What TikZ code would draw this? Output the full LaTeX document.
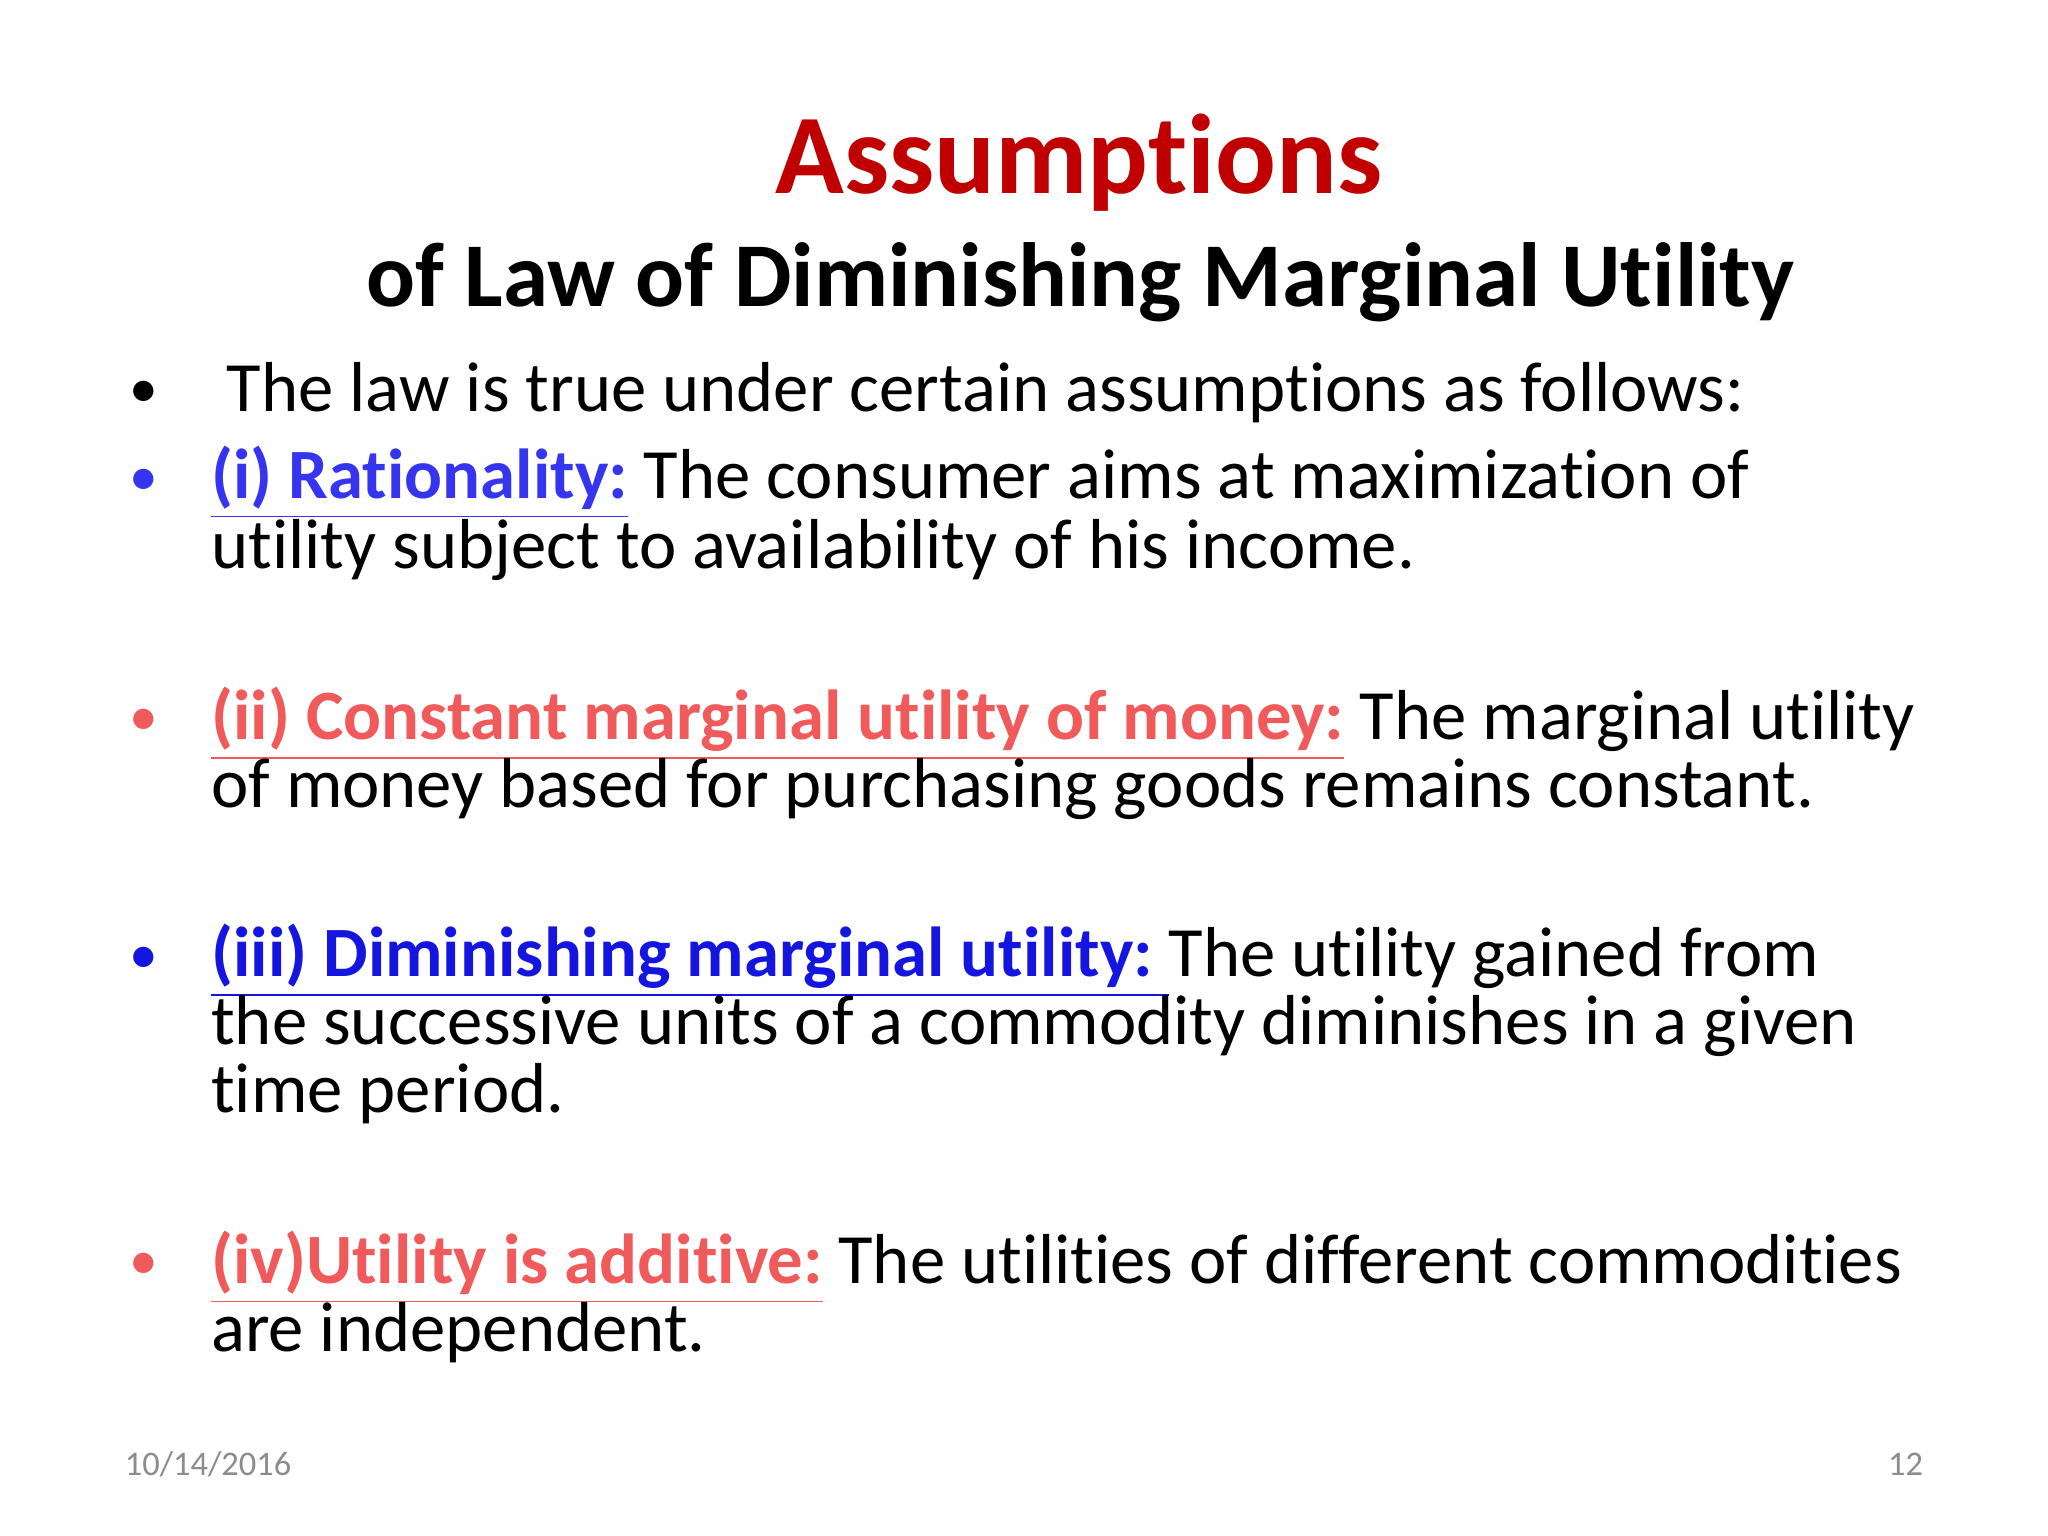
\documentclass[tikz,border=0pt]{standalone}
\usepackage{fontspec}
\setmainfont{Carlito}[RawFeature={-liga}]
\definecolor{titred}{HTML}{C00000}
\definecolor{blueA}{HTML}{3535F0}
\definecolor{blueB}{HTML}{1515E0}
\definecolor{redA}{HTML}{F05A5A}
\definecolor{dategray}{HTML}{8C8C8C}
\tikzset{body/.style={anchor=base west,inner sep=0pt,font=\fontsize{15.4pt}{18pt}\selectfont},
 bul/.style={anchor=base,inner sep=0pt,font=\fontsize{12.5pt}{14pt}\selectfont}}
\newcommand{\ul}[2]{\textcolor{#1}{\setlength{\fboxsep}{0pt}\underline{\textbf{#2}}}}
\begin{document}
\begin{tikzpicture}[x=0.01cm,y=-0.01cm]
\useasboundingbox (0,0) rectangle (1568,1176);
\node[anchor=base,inner sep=0pt,text=titred,font=\fontsize{24.7pt}{30pt}\selectfont\bfseries] (t) at (826,148) {Assumptions};
\node[anchor=base,inner sep=0pt,font=\fontsize{19.85pt}{24pt}\selectfont\bfseries] (st) at (827,235) {of Law of Diminishing Marginal Utility};
\node[bul] (b0) at (110,312) {•};
\node[body] (l0) at (173,315) {The law is true under certain assumptions as follows:};
\node[bul,text=blueA] (b1) at (110,379) {•};
\node[body] (l1a) at (161,382) {\ul{blueA}{(i) Rationality:} The consumer aims at maximization of};
\node[body] (l1b) at (161,435) {utility subject to availability of his income.};
\node[bul,text=redA] (b2) at (110,563) {•};
\node[body] (l2a) at (161,566) {\ul{redA}{(ii) Constant marginal utility of money:} The marginal utility};
\node[body] (l2b) at (161,618) {of money based for purchasing goods remains constant.};
\node[bul,text=blueB] (b3) at (110,745) {•};
\node[body] (l3a) at (161,748) {\ul{blueB}{(iii) Diminishing marginal utility:~}The utility gained from};
\node[body] (l3b) at (161,800) {the successive units of a commodity diminishes in a given};
\node[body] (l3c) at (161,852) {time period.};
\node[bul,text=redA] (b4) at (110,980) {•};
\node[body] (l4a) at (161,983) {\ul{redA}{(iv)Utility is additive:} The utilities of different commodities};
\node[body] (l4b) at (161,1035) {are independent.};
\node[anchor=base west,inner sep=0pt,text=dategray,font=\fontsize{7.5pt}{9pt}\selectfont] (d) at (95,1130) {10/14/2016};
\node[anchor=base east,inner sep=0pt,text=dategray,font=\fontsize{7.5pt}{9pt}\selectfont] (n) at (1473,1130) {12};
\end{tikzpicture}
\end{document}
